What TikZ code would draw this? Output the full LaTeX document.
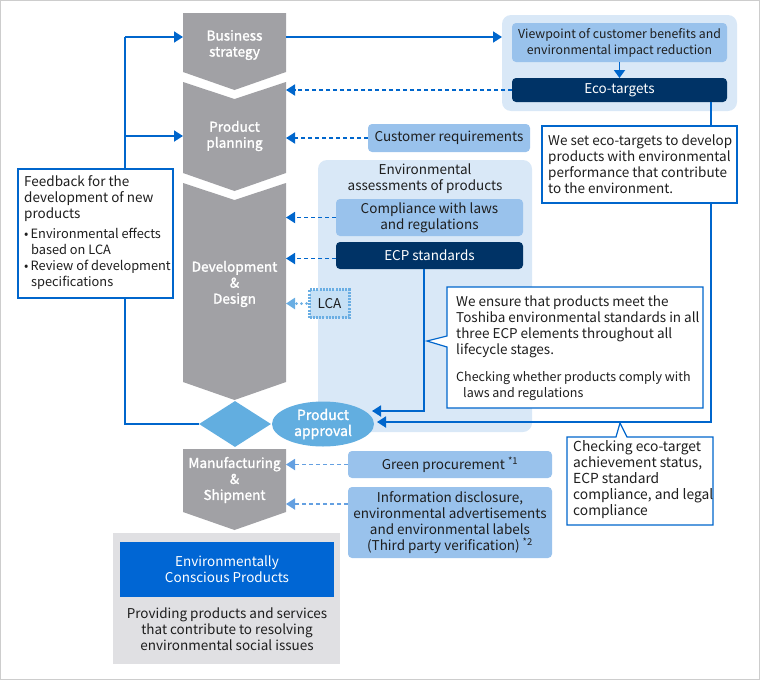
\documentclass[tikz,border=0pt]{standalone}
\usepackage{fontspec}
\setmainfont{Noto Sans CJK JP}
\newfontfamily\blkfont[FakeBold=1.6]{Noto Sans CJK JP}
\usetikzlibrary{shapes.geometric,arrows.meta,calc}
\definecolor{blockgray}{RGB}{161,161,165}
\definecolor{linkblue}{RGB}{0,102,204}
\definecolor{lightpanel}{RGB}{217,232,247}
\definecolor{midbox}{RGB}{153,194,236}
\definecolor{navy}{RGB}{0,51,102}
\definecolor{approval}{RGB}{98,174,224}
\definecolor{lcafill}{RGB}{198,224,245}
\definecolor{lcaline}{RGB}{106,174,227}
\definecolor{lightarrow}{RGB}{100,160,225}
\definecolor{bottomgray}{RGB}{224,224,227}
\definecolor{brightblue}{RGB}{0,102,212}
\definecolor{framegray}{RGB}{205,205,205}
\definecolor{textblack}{RGB}{30,30,30}
\begin{document}
\begin{tikzpicture}[x=1pt,y=-1pt,
  font=\fontsize{13.5}{16}\selectfont, text=textblack,
  blktext/.style={text=white, font=\blkfont\fontsize{13.6}{16}\selectfont, align=center, inner sep=0},
  conn/.style={draw=linkblue, line width=1.8pt},
  arr/.style={conn, -{Triangle[length=9pt,width=11pt]}},
  dasharr/.style={arr, dash pattern=on 4pt off 3pt},
  lightdash/.style={dasharr, draw=lightarrow},
  box/.style={anchor=north west, inner sep=0, outer sep=0, align=center, rounded corners=4pt},
  midb/.style={box, fill=midbox},
  navyb/.style={box, fill=navy, text=white},
  panel/.style={box, fill=lightpanel, rounded corners=9pt},
  callout/.style={fill=white, draw=linkblue, line width=1.2pt},
  ctext/.style={anchor=west, align=left, inner sep=0}
]
\useasboundingbox (0,0) rectangle (760,680);
\draw[framegray, line width=1pt] (0.5,0.5) rectangle (759.5,679.5);

% gray column
\fill[blockgray] (183,13) -- (286,13) -- (286,72) -- (234.5,90) -- (183,72) -- cycle;
\fill[blockgray] (183,82) -- (234.5,99) -- (286,82) -- (286,173) -- (234.5,191) -- (183,173) -- cycle;
\fill[blockgray] (183,183) -- (234.5,200) -- (286,183) -- (286,382) -- (234.5,400) -- (183,382) -- cycle;
\fill[blockgray] (183,449) -- (286,449) -- (286,512) -- (234.5,530) -- (183,512) -- cycle;
\node[blktext] (biz) at (234.5,45) {Business\\strategy};
\node[blktext] (plan) at (234.5,136) {Product\\planning};
\node[blktext] (dev) at (234.5,284) {Development\\\&\\Design};
\node[blktext] (man) at (234.5,480) {Manufacturing\\\&\\Shipment};
\coordinate (colR) at (286,0);
\coordinate (colL) at (183,0);

% panels
\node[panel, minimum width=235pt, minimum height=96pt] (vpanel) at (502,15) {};
\node[midb, minimum width=215pt, minimum height=39pt, font=\fontsize{12.3}{16}\selectfont] (vp) at (512,23) {Viewpoint of customer benefits and\\environmental impact reduction};
\node[navyb, minimum width=215pt, minimum height=24pt] (eco) at (512,78) {Eco-targets};
\draw[arr, -{Triangle[length=8pt,width=11pt]}] (vp.south) -- (eco.north);

\node[midb, minimum width=162pt, minimum height=28pt] (cust) at (368,124) {Customer requirements};

\node[panel, minimum width=214pt, minimum height=272pt] (envp) at (318,160) {};
\node[align=center, inner sep=0] (envt) at (425,179) {Environmental\\assessments of products};
\node[midb, minimum width=187pt, minimum height=37pt] (comp) at (336,199) {Compliance with laws\\and regulations};
\node[navyb, minimum width=187pt, minimum height=27pt] (ecp) at (336,242) {ECP standards};
\node[box, rounded corners=0pt, fill=lcafill, draw=lcaline, line width=2.4pt, dash pattern=on 2pt off 1.2pt, minimum width=40pt, minimum height=28pt] (lca) at (309.5,289.5) {LCA};

\node[midb, minimum width=204pt, minimum height=27pt] (green) at (348,451) {Green procurement \textsuperscript{*1}};
\node[midb, minimum width=204pt, minimum height=71pt] (info) at (348,487) {Information disclosure,\\environmental advertisements\\and environmental labels\\(Third party verification) \textsuperscript{*2}};

% bottom
\node[box, rounded corners=0pt, fill=bottomgray, minimum width=227pt, minimum height=131pt] (bot) at (113,533) {};
\node[box, rounded corners=0pt, fill=brightblue, text=white, minimum width=214pt, minimum height=55pt] (ecpprod) at (120,542) {Environmentally\\Conscious Products};
\node[align=center, inner sep=0] (prov) at (227,629) {Providing products and services\\that contribute to resolving\\environmental social issues};

% decision
\node[diamond, fill=approval, minimum width=72pt, minimum height=46pt, inner sep=0] (dia) at (235,424) {};
\node[ellipse, fill=approval, minimum width=102pt, minimum height=45pt, inner sep=0, text=white, font=\blkfont\fontsize{14}{16}\selectfont, align=center] (appr) at (323,424) {Product\\approval};

% connectors
\coordinate (bizR) at (286,37);
\draw[arr] (bizR) -- (vpanel.west |- bizR);
\draw[dasharr] (eco.west) -- (eco.west -| colR);
\draw[dasharr] (cust.west) -- (cust.west -| colR);
\draw[dasharr] (comp.west) -- (comp.west -| colR);
\draw[dasharr] ([yshift=-3pt]ecp.west) -- ([yshift=-3pt]ecp.west -| colR);
\draw[draw=lcaline, line width=3pt, line cap=round, dash pattern=on 0pt off 5pt, -{Triangle[length=9pt,width=11pt]}] ([xshift=-3pt]lca.west) -- (lca.west -| colR);
\draw[lightdash] (green.west) -- (green.west -| colR);
\coordinate (infoA) at ([yshift=-17pt]info.north west);
\draw[lightdash] (infoA) -- (infoA -| colR);

\coordinate (ecoD) at (711,102);
\coordinate (ecoC) at (711,422);
\coordinate (apprA) at (377,422);
\draw[arr] (ecoD) -- (ecoC) -- (apprA);
\coordinate (ecpD) at (424,269);
\coordinate (ecpC) at (424,411);
\coordinate (apprB) at (372,411);
\draw[arr] (ecpD) -- (ecpC) -- (apprB);

\coordinate (fbC) at (125,424);
\coordinate (fbT) at (125,37);
\coordinate (fbM) at (125,136);
\draw[conn] (dia.west) -- (fbC) -- (fbT);
\draw[arr] (fbT) -- (fbT -| colL);
\draw[arr] (fbM) -- (fbM -| colL);

% text boxes
\node[box, rounded corners=0pt, fill=white, draw=linkblue, line width=1.2pt, minimum width=155pt, minimum height=129pt] (fb) at (18,169) {};
\node[ctext] (fbt) at (24,233) {Feedback for the\\development of new\\products\\[4pt]{\fontsize{12.8}{16}\selectfont\textbullet\,Environmental effects}\\{\fontsize{12.8}{16}\selectfont\hspace*{7pt}based on LCA}\\{\fontsize{12.8}{16}\selectfont\textbullet\,Review of development}\\{\fontsize{12.8}{16}\selectfont\hspace*{7pt}specifications}};

\node[box, rounded corners=0pt, fill=white, draw=linkblue, line width=1.2pt, minimum width=195pt, minimum height=77pt] (weset) at (542,126) {};
\node[ctext] (wesett) at (548,164) {We set eco-targets to develop\\products with environmental\\performance that contribute\\to the environment.};

\draw[callout] (447,287) -- (703,287) -- (703,408) -- (447,408) -- (447,347) -- (427,341) -- (447,336) -- cycle;
\node[ctext] (ensure) at (456,348) {We ensure that products meet the\\Toshiba environmental standards in all\\three ECP elements throughout all\\lifecycle stages.\\[11pt]{\fontsize{12.5}{15}\selectfont Checking whether products comply with}\\{\fontsize{12.5}{15}\selectfont\hspace*{7pt}laws and regulations}};

\draw[callout] (567,437) -- (616,437) -- (620,423) -- (627,437) -- (713,437) -- (713,525) -- (567,525) -- cycle;
\node[ctext, font=\fontsize{13.8}{16}\selectfont] (check) at (573,480) {Checking eco-target\\achievement status,\\ECP standard\\compliance, and legal\\compliance};
\end{tikzpicture}
\end{document}
